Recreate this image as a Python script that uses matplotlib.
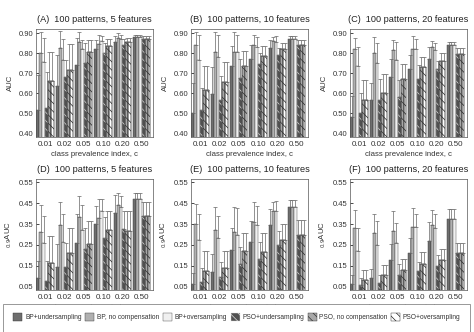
import numpy as np
import matplotlib
matplotlib.use("Agg")
import matplotlib.pyplot as plt
from matplotlib.patches import Patch, Rectangle

plt.rcParams['font.family'] = ['Liberation Sans', 'DejaVu Sans']
plt.rcParams['hatch.linewidth'] = 0.5

categories = ["0.01", "0.02", "0.05", "0.10", "0.20", "0.50"]
methods = ["BP+undersampling", "BP, no compensation", "BP+oversampling",
           "PSO+undersampling", "PSO, no compensation", "PSO+oversampling"]

# AUC, 100 patterns, rows = prevalence index, columns = method
auc_f5_mean = [[0.515, 0.800, 0.755, 0.525, 0.660, 0.660],
               [0.635, 0.825, 0.765, 0.680, 0.715, 0.715],
               [0.740, 0.855, 0.820, 0.750, 0.805, 0.805],
               [0.820, 0.845, 0.860, 0.800, 0.835, 0.835],
               [0.855, 0.875, 0.870, 0.840, 0.855, 0.855],
               [0.880, 0.880, 0.880, 0.870, 0.870, 0.870]]
auc_f5_upper = [[0.690, 0.905, 0.875, 0.705, 0.805, 0.805],
                [0.790, 0.910, 0.870, 0.765, 0.845, 0.845],
                [0.875, 0.905, 0.865, 0.850, 0.865, 0.865],
                [0.865, 0.890, 0.885, 0.850, 0.870, 0.870],
                [0.885, 0.900, 0.890, 0.870, 0.875, 0.875],
                [0.890, 0.890, 0.890, 0.885, 0.885, 0.885]]

auc_f10_mean = [[0.500, 0.840, 0.765, 0.515, 0.615, 0.615],
                [0.595, 0.805, 0.780, 0.565, 0.655, 0.655],
                [0.735, 0.805, 0.805, 0.675, 0.735, 0.735],
                [0.770, 0.840, 0.830, 0.745, 0.785, 0.785],
                [0.825, 0.860, 0.855, 0.790, 0.820, 0.820],
                [0.870, 0.870, 0.870, 0.840, 0.840, 0.840]]
auc_f10_upper = [[0.650, 0.905, 0.890, 0.625, 0.735, 0.735],
                 [0.730, 0.905, 0.890, 0.685, 0.755, 0.755],
                 [0.835, 0.905, 0.890, 0.770, 0.810, 0.810],
                 [0.840, 0.890, 0.880, 0.800, 0.835, 0.835],
                 [0.865, 0.880, 0.885, 0.825, 0.850, 0.850],
                 [0.885, 0.885, 0.885, 0.865, 0.865, 0.865]]

auc_f20_mean = [[0.480, 0.820, 0.735, 0.500, 0.565, 0.565],
                [0.565, 0.800, 0.750, 0.565, 0.600, 0.600],
                [0.680, 0.815, 0.765, 0.580, 0.670, 0.670],
                [0.720, 0.820, 0.820, 0.670, 0.730, 0.730],
                [0.770, 0.830, 0.815, 0.720, 0.760, 0.760],
                [0.840, 0.840, 0.840, 0.795, 0.795, 0.795]]
auc_f20_upper = [[0.585, 0.875, 0.830, 0.600, 0.665, 0.665],
                 [0.650, 0.880, 0.850, 0.670, 0.695, 0.695],
                 [0.770, 0.865, 0.855, 0.665, 0.745, 0.745],
                 [0.790, 0.885, 0.870, 0.740, 0.780, 0.780],
                 [0.830, 0.860, 0.850, 0.760, 0.800, 0.800],
                 [0.855, 0.855, 0.855, 0.825, 0.825, 0.825]]

# partial AUC (0.9)
pauc_f5_mean = [[0.090, 0.310, 0.260, 0.080, 0.165, 0.165],
                [0.145, 0.345, 0.265, 0.145, 0.210, 0.210],
                [0.260, 0.385, 0.320, 0.230, 0.255, 0.255],
                [0.350, 0.380, 0.410, 0.285, 0.320, 0.320],
                [0.405, 0.440, 0.430, 0.325, 0.315, 0.315],
                [0.470, 0.470, 0.470, 0.390, 0.390, 0.390]]
pauc_f5_upper = [[0.175, 0.440, 0.390, 0.175, 0.295, 0.295],
                 [0.255, 0.455, 0.400, 0.260, 0.330, 0.330],
                 [0.400, 0.485, 0.440, 0.330, 0.365, 0.365],
                 [0.435, 0.470, 0.470, 0.385, 0.410, 0.410],
                 [0.490, 0.500, 0.485, 0.410, 0.410, 0.410],
                 [0.500, 0.500, 0.500, 0.455, 0.455, 0.455]]

pauc_f10_mean = [[0.065, 0.350, 0.275, 0.075, 0.125, 0.125],
                 [0.120, 0.320, 0.285, 0.095, 0.140, 0.140],
                 [0.225, 0.310, 0.300, 0.160, 0.220, 0.220],
                 [0.265, 0.360, 0.345, 0.185, 0.215, 0.215],
                 [0.345, 0.410, 0.410, 0.250, 0.275, 0.275],
                 [0.430, 0.430, 0.430, 0.300, 0.300, 0.300]]
pauc_f10_upper = [[0.115, 0.445, 0.400, 0.140, 0.220, 0.220],
                  [0.205, 0.430, 0.390, 0.170, 0.220, 0.220],
                  [0.330, 0.430, 0.425, 0.240, 0.305, 0.305],
                  [0.365, 0.455, 0.435, 0.265, 0.305, 0.305],
                  [0.420, 0.455, 0.460, 0.315, 0.350, 0.350],
                  [0.465, 0.465, 0.465, 0.370, 0.370, 0.370]]

pauc_f20_mean = [[0.065, 0.330, 0.220, 0.060, 0.085, 0.085],
                 [0.090, 0.305, 0.250, 0.070, 0.105, 0.105],
                 [0.180, 0.315, 0.260, 0.105, 0.130, 0.130],
                 [0.210, 0.335, 0.335, 0.125, 0.160, 0.160],
                 [0.270, 0.345, 0.330, 0.150, 0.180, 0.180],
                 [0.375, 0.375, 0.375, 0.210, 0.210, 0.210]]
pauc_f20_upper = [[0.105, 0.415, 0.330, 0.090, 0.130, 0.130],
                  [0.135, 0.400, 0.365, 0.105, 0.155, 0.155],
                  [0.255, 0.410, 0.355, 0.160, 0.185, 0.185],
                  [0.285, 0.425, 0.400, 0.170, 0.215, 0.215],
                  [0.360, 0.415, 0.400, 0.200, 0.230, 0.230],
                  [0.420, 0.420, 0.420, 0.260, 0.260, 0.260]]

auc_ticks = [0.40, 0.50, 0.60, 0.70, 0.80, 0.90]
pauc_ticks = [0.05, 0.15, 0.25, 0.35, 0.45, 0.55]

face_colors = ["#6e6e6e", "#b0b0b0", "#f0f0f0", "#505050", "#a8a8a8", "#ffffff"]
hatches = [None, None, None, "\\\\\\\\", "\\\\\\\\", "\\\\\\\\"]
hatch_edges = ["#333333", "#333333", "#444444", "#e0e0e0", "#303030", "#202020"]

panels = [
    ("(A)  100 patterns, 5 features", auc_f5_mean, auc_f5_upper, "AUC"),
    ("(B)  100 patterns, 10 features", auc_f10_mean, auc_f10_upper, "AUC"),
    ("(C)  100 patterns, 20 features", auc_f20_mean, auc_f20_upper, "AUC"),
    ("(D)  100 patterns, 5 features", pauc_f5_mean, pauc_f5_upper, "$_{0.9}$AUC"),
    ("(E)  100 patterns, 10 features", pauc_f10_mean, pauc_f10_upper, "$_{0.9}$AUC"),
    ("(F)  100 patterns, 20 features", pauc_f20_mean, pauc_f20_upper, "$_{0.9}$AUC"),
]

fig = plt.figure(figsize=(4.74, 3.32), dpi=100)
lefts = [36 / 474, 191 / 474, 350 / 474]
width = 117 / 474
row_boxes = [(1 - 137 / 332, 108 / 332), (1 - 290 / 332, 111 / 332)]

text_color = "#333333"
bar_w = 0.15
x = np.arange(len(categories))

for i, (title, mean, upper, ylab) in enumerate(panels):
    row, col = divmod(i, 3)
    bottom, height = row_boxes[row]
    ax = fig.add_axes([lefts[col], bottom, width, height])
    mean = np.array(mean)
    upper = np.array(upper)
    for m in range(len(methods)):
        xs = x + (m - 2.5) * bar_w
        ax.bar(xs, mean[:, m], width=bar_w, color=face_colors[m],
               edgecolor=hatch_edges[m], hatch=hatches[m], linewidth=0.3,
               zorder=2)
        if hatches[m] is not None:
            ax.bar(xs, mean[:, m], width=bar_w, color="none",
                   edgecolor="#333333", linewidth=0.3, zorder=3)
        ax.errorbar(xs, mean[:, m], yerr=[np.zeros(len(categories)), upper[:, m] - mean[:, m]],
                    fmt="none", ecolor="#666666", elinewidth=0.5, capsize=1.3,
                    capthick=0.5, zorder=4)
    if row == 0:
        ax.set_ylim(0.38, 0.92)
        ax.set_yticks(auc_ticks)
        ax.set_yticklabels([f"{t:.2f}" for t in auc_ticks])
    else:
        ax.set_ylim(0.035, 0.565)
        ax.set_yticks(pauc_ticks)
        ax.set_yticklabels([f"{t:.2f}" for t in pauc_ticks])
    ax.set_xlim(-0.47, 5.58)
    ax.set_xticks(x)
    ax.set_xticklabels(categories)
    ax.tick_params(axis="y", direction="in", length=2, width=0.5,
                   labelsize=5.5, labelcolor=text_color, pad=2)
    ax.tick_params(axis="x", length=0, labelsize=5.8, labelcolor=text_color, pad=3)
    for s in ax.spines.values():
        s.set_linewidth(0.5)
        s.set_color("#555555")
    ax.set_title(title, fontsize=6.6, color="#222222", pad=5)
    ax.set_xlabel("class prevalence index, c", fontsize=5.6, color=text_color, labelpad=2)
    ax.set_ylabel(ylab, fontsize=5.6, color=text_color, labelpad=3)

# legend strip across the bottom of the figure
fig.patches.append(Rectangle((3 / 474, -0.01), 467 / 474, 1 - 304 / 332 + 0.01,
                             transform=fig.transFigure, facecolor="white",
                             edgecolor="#888888", linewidth=0.6, zorder=0))
handles = [Patch(facecolor=face_colors[m], edgecolor=hatch_edges[m], hatch=hatches[m],
                 linewidth=0.3) for m in range(len(methods))]
leg = fig.legend(handles, methods, loc="center",
                 bbox_to_anchor=(0.5, 1 - 317 / 332),
                 ncol=6, fontsize=4.8, frameon=False,
                 handlelength=1.35, handleheight=1.35, handletextpad=0.4,
                 borderaxespad=0.0, borderpad=0.0, columnspacing=0.55)
for t in leg.get_texts():
    t.set_color(text_color)

fig.savefig("out.png", dpi=100)
